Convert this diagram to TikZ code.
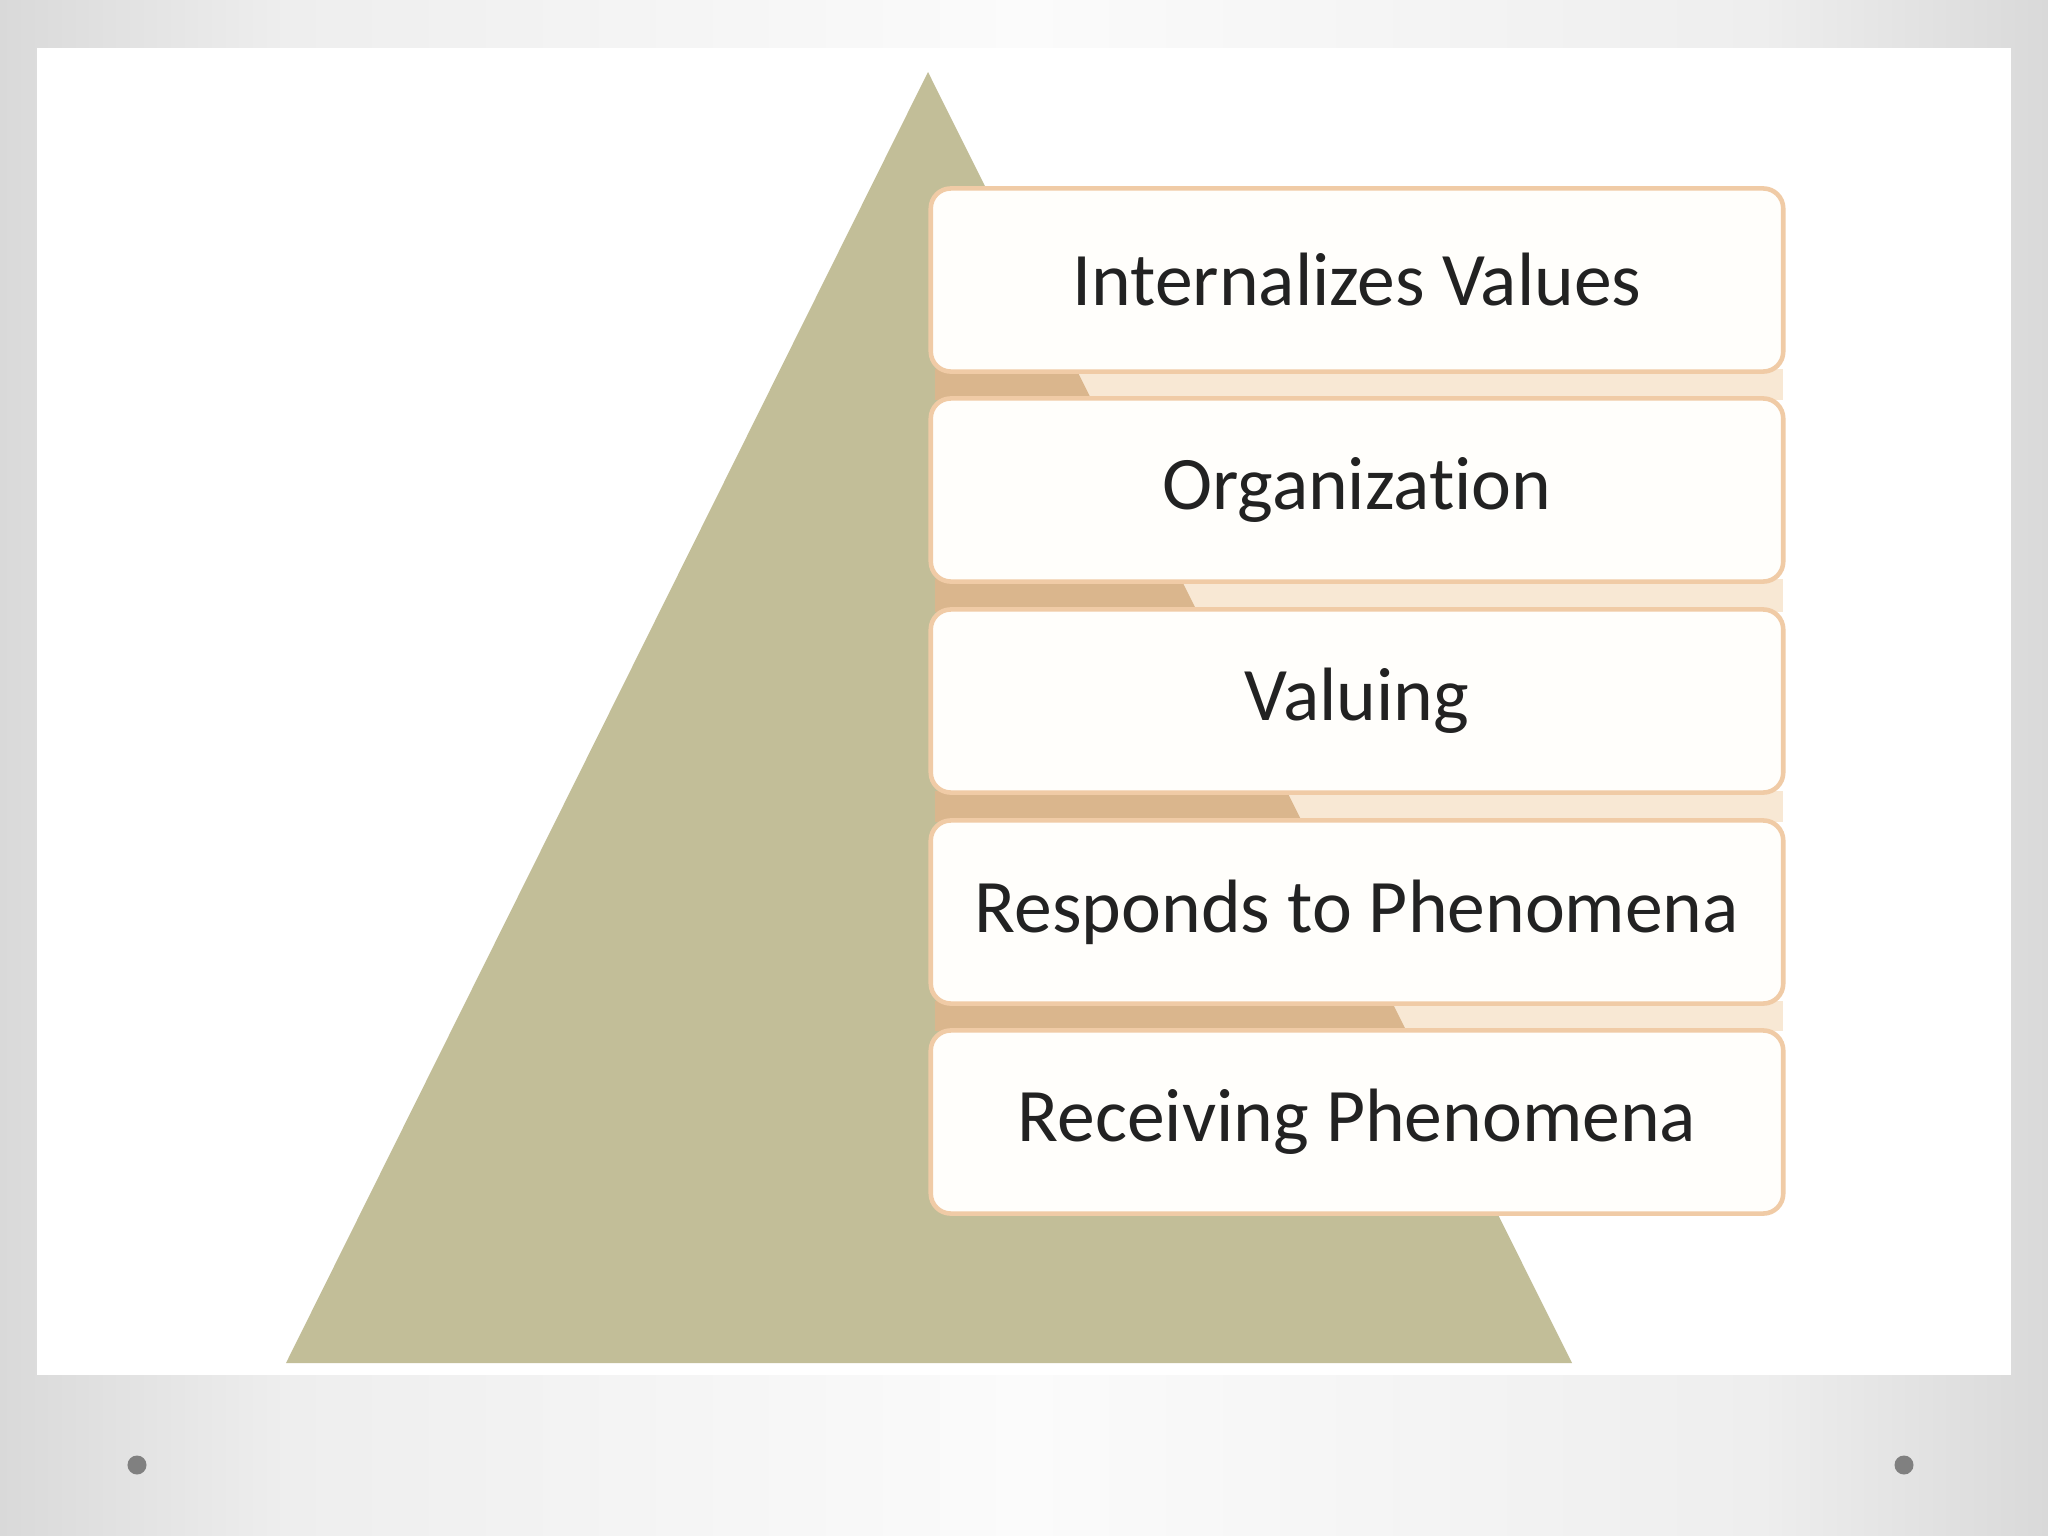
\documentclass[tikz,border=0pt]{standalone}
\usepackage{fontspec}
\setmainfont{Carlito}[Ligatures={NoCommon,NoContextual}]
\definecolor{bgedge}{HTML}{D9D9D9}
\definecolor{bgmid}{HTML}{EEEEEE}
\definecolor{bgcenter}{HTML}{FBFBFB}
\definecolor{pyr}{HTML}{C2BE98}
\definecolor{bandon}{HTML}{DAB68D}
\definecolor{bandoff}{HTML}{F8E8D4}
\definecolor{boxline}{HTML}{F0CBA6}
\definecolor{boxfill}{HTML}{FFFEFB}
\definecolor{txt}{HTML}{222222}
\definecolor{dotc}{HTML}{808080}
\pgfdeclarehorizontalshading{bgsh}{100bp}{color(0bp)=(bgedge); color(25bp)=(bgedge); color(32bp)=(bgmid); color(50bp)=(bgcenter); color(68bp)=(bgmid); color(75bp)=(bgedge); color(100bp)=(bgedge)}
\tikzset{
  levelbox/.style={draw=boxline, line width=1.3pt, fill=boxfill, rounded corners=0.2cm,
    minimum width=8.52cm, minimum height=1.83cm, inner sep=0pt, text=txt,
    font=\fontsize{21.5}{26}\selectfont},
  dotmark/.style={circle, fill=dotc, minimum size=0.19cm, inner sep=0pt}
}
\begin{document}
\begin{tikzpicture}[x=0.01cm,y=-0.01cm]
\useasboundingbox (0,0) rectangle (2048,1536);
\shade[shading=bgsh] (0,0) rectangle (2048,1536);
\fill[white] (37,48) rectangle (2011,1375);
% pyramid
\coordinate (apex) at (928,72);
\coordinate (bl) at (286,1363);
\coordinate (br) at (1572,1363);
\fill[pyr] (apex) -- (br) -- (bl) -- cycle;
% bands between boxes
\foreach \ya/\yb in {369/400, 579/612, 791/822, 1001/1031}{
  \fill[bandoff] (935,\ya) rectangle (1783,\yb);
  \begin{scope}
    \clip (apex) -- (br) -- (bl) -- cycle;
    \fill[bandon] (935,\ya) rectangle (1783,\yb);
  \end{scope}
}
% boxes
\node[levelbox] (b1) at (1357,280) {Internalizes Values};
\node[levelbox] (b2) at (1357,490) {Organization};
\node[levelbox] (b3) at (1357,701) {Valuing};
\node[levelbox] (b4) at (1357,912) {Responds to Phenomena};
\node[levelbox] (b5) at (1357,1122) {Receiving Phenomena};
% slide dots
\node[dotmark] (d1) at (137,1465) {};
\node[dotmark] (d2) at (1904,1465) {};
\end{tikzpicture}
\end{document}
